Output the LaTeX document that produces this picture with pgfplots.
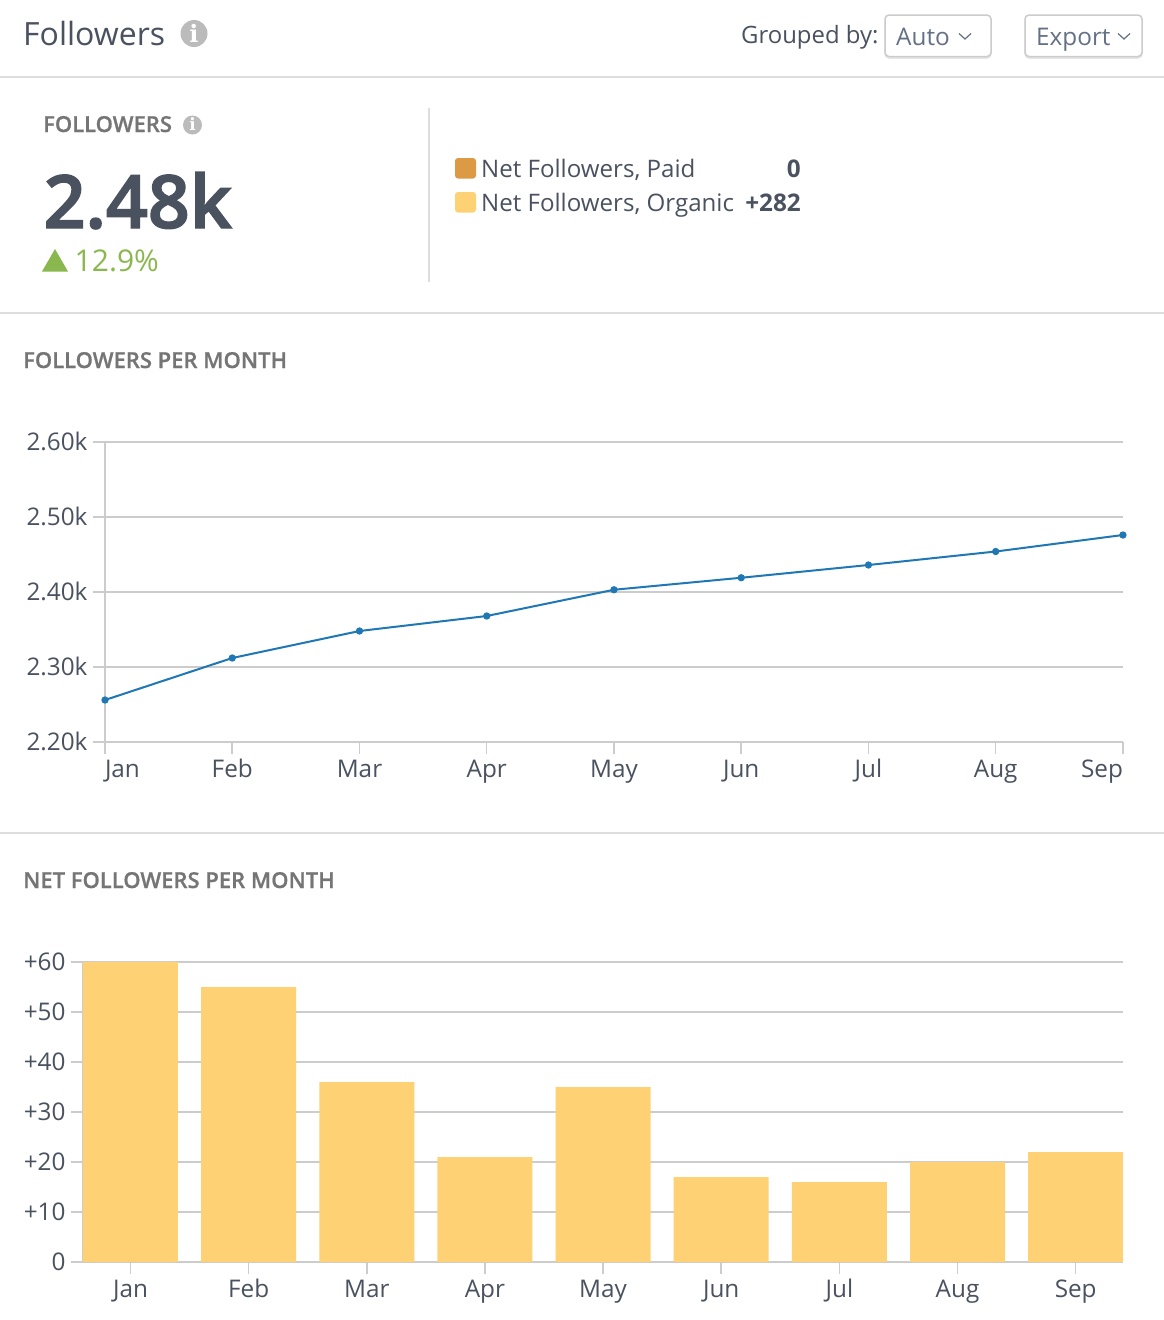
\documentclass[border=0pt]{standalone}
\usepackage{fontspec}
\setmainfont{Open Sans}
\newfontfamily\iconfont{DejaVu Serif}
\newfontfamily\semibold[FakeBold=0.7]{Open Sans Semibold}
\newfontfamily\herofont[FakeBold=2]{Open Sans Semibold}
\usepackage{pgfplots}
\pgfplotsset{compat=1.18}
\usepackage{pgfplotstable}

\definecolor{ink}{HTML}{4A5260}
\definecolor{btnink}{HTML}{647084}
\definecolor{head}{HTML}{757575}
\definecolor{rule}{HTML}{DDDDDD}
\definecolor{gridc}{HTML}{CCCCCC}
\definecolor{iconc}{HTML}{BBBBBB}
\definecolor{paid}{HTML}{DD9A45}
\definecolor{organic}{HTML}{FED174}
\definecolor{upgreen}{HTML}{8AB84E}
\definecolor{linec}{HTML}{1F77B4}

\pgfplotstableread{
idx total
0 2256
1 2312
2 2348
3 2368
4 2403
5 2419
6 2436
7 2454
8 2476
}\totals

\pgfplotstableread{
idx net
0 60
1 55
2 36
3 21
4 35
5 17
6 16
7 20
8 22
}\nets

\pgfplotsset{panel/.style={
    scale only axis,
    axis lines*=left,
    axis line style={gridc,line width=1.5pt,-},
    tick style={gridc,line width=1.5pt},
    tick align=outside,
    major tick length=12pt,
    ymajorgrids,
    major grid style={gridc,line width=1.5pt},
    tick label style={font=\fontsize{24.3}{24.3}\selectfont,text=ink},
    xticklabel style={anchor=base,yshift=-23pt},
    yticklabel style={anchor=base east,yshift=-8.5pt,xshift=-2pt},
}}

\begin{document}
\begin{tikzpicture}[x=1pt,y=-1pt]
\path[use as bounding box,fill=white] (0,0) rectangle (1164,1320);

% header
\node[anchor=base west,inner sep=0pt,text=ink] at (23,45.5) {\fontsize{32}{32}\selectfont Followers};
\fill[iconc] (194,33.5) circle (13.5);
\node[text=white,inner sep=0pt] at (194,33) {\iconfont\bfseries\fontsize{24}{24}\selectfont i};
\node[anchor=base west,inner sep=0pt,text=ink] at (741,43) {\fontsize{23.9}{23.9}\selectfont Grouped by:};
\foreach \xa/\xb/\lbl/\cx in {885/991/Auto/965,1025/1142/Export/1124}{
  \draw[rounded corners=4,line width=1.5pt,draw=gridc!50,fill=gridc!50] (\xa,16.5) rectangle (\xb,58);
  \draw[rounded corners=4,line width=1.5pt,draw=gridc,fill=white] (\xa,15) rectangle (\xb,56.5);
  \node[anchor=base west,inner sep=0pt,text=btnink] at (\xa+11,45) {\fontsize{24.3}{24.3}\selectfont \lbl};
  \draw[btnink,line width=1.2pt] (\cx-6,33.5) -- (\cx,39) -- (\cx+6,33.5);
}
\draw[rule,line width=1.5pt] (0,77) -- (1164,77);

% summary block
\node[anchor=base west,inner sep=0pt,text=head] at (43,132) {\semibold\fontsize{22}{22}\selectfont FOLLOWERS};
\fill[iconc] (192.5,125) circle (9.5);
\node[text=white,inner sep=0pt] at (192.5,124.5) {\iconfont\bfseries\fontsize{17}{17}\selectfont i};
\node[anchor=base west,inner sep=0pt,text=ink] at (43.5,228) {\herofont\fontsize{73.5}{73.5}\selectfont 2.48k};
\fill[upgreen] (42,271.5) -- (55,249) -- (68,271.5) -- cycle;
\node[anchor=base west,inner sep=0pt,text=upgreen] at (74.5,271) {\fontsize{30}{30}\selectfont 12.9\%};
\draw[rule,line width=1.5pt] (429,108) -- (429,282);

% legend
\fill[paid,rounded corners=3] (455,158) rectangle (476,178.5);
\fill[organic,rounded corners=3] (455,192) rectangle (476,212.5);
\node[anchor=base west,inner sep=0pt,text=ink] at (481,177) {\fontsize{24.1}{24.1}\selectfont Net Followers, Paid};
\node[anchor=base west,inner sep=0pt,text=ink] at (481,211) {\fontsize{24.1}{24.1}\selectfont Net Followers, Organic};
\node[anchor=base east,inner sep=0pt,text=ink] at (801,177) {\fontsize{24.3}{24.3}\selectfont\bfseries 0};
\node[anchor=base east,inner sep=0pt,text=ink] at (801,211) {\fontsize{24.3}{24.3}\selectfont\bfseries +282};
\draw[rule,line width=1.5pt] (0,313) -- (1164,313);

% section heads
\node[anchor=base west,inner sep=0pt,text=head] at (23,368) {\semibold\fontsize{22}{22}\selectfont FOLLOWERS PER MONTH};
\draw[rule,line width=1.5pt] (0,833) -- (1164,833);
\node[anchor=base west,inner sep=0pt,text=head] at (23,888) {\semibold\fontsize{22}{22}\selectfont NET FOLLOWERS PER MONTH};

% followers line chart
\begin{axis}[panel,
    at={(105pt,-742pt)},anchor=south west,
    width=1018pt,height=300pt,
    xmin=0,xmax=8,ymin=2200,ymax=2600,
    xtick={0,...,8},
    xticklabels={\rlap{Jan},Feb,Mar,Apr,May,Jun,Jul,Aug,\llap{Sep}},
    ytick={2200,2300,2400,2500,2600},
    yticklabels={2.20k,2.30k,2.40k,2.50k,2.60k},
    clip=false,
  ]
  \addplot[linec,line width=2pt,mark=*,mark size=2.6pt,mark options={fill=linec,draw=none}]
    table[x=idx,y=total] {\totals};
\end{axis}

% net followers bars
\begin{axis}[panel,
    at={(83pt,-1262pt)},anchor=south west,
    width=1040pt,height=300pt,
    xmin=-0.402,xmax=8.4,ymin=0,ymax=60,
    xtick={0,...,8},
    xticklabels={Jan,Feb,Mar,Apr,May,Jun,Jul,Aug,Sep},
    ytick={0,10,...,60},
    yticklabels={0,+10,+20,+30,+40,+50,+60},
    ybar,bar width=95pt,
  ]
  \addplot[fill=organic,draw=none] table[x=idx,y=net] {\nets};
\end{axis}
\end{tikzpicture}
\end{document}
